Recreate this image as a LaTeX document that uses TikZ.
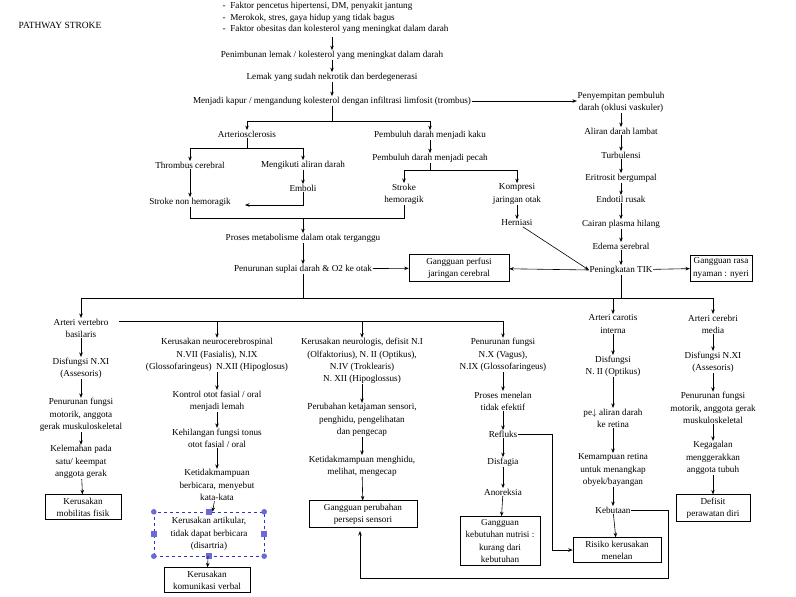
\documentclass[tikz,border=0pt]{standalone}
\usepackage{fontspec}
\setmainfont{Liberation Serif}
\usetikzlibrary{arrows.meta,calc}
\begin{document}
\begin{tikzpicture}[x=1bp,y=-1bp,
  every node/.style={font=\fontsize{9.2}{12.3}\selectfont,align=center,inner sep=0.5pt},
  bx/.style={draw,line width=0.6pt,inner sep=3pt},
  ln/.style={line width=0.6pt},
  ar/.style={ln,-{Stealth[length=4.5pt,width=3.5pt]}}]
\useasboundingbox (0,0) rectangle (796,597);
\node[anchor=west,font=\fontsize{9.5}{10}\selectfont] (title) at (18,25) {PATHWAY STROKE};
\node[anchor=north west,align=left,font=\fontsize{9.2}{12}\selectfont] (fak) at (222,1) {-\ \ Faktor pencetus hipertensi, DM, penyakit jantung\\-\ \ Merokok, stres, gaya hidup yang tidak bagus\\-\ \ Faktor obesitas dan kolesterol yang meningkat dalam darah};
\node (pen) at (332,55) {Penimbunan lemak / kolesterol yang meningkat dalam darah};
\node (lem) at (332,77) {Lemak yang sudah nekrotik dan berdegenerasi};
\node (men) at (332,101) {Menjadi kapur / mengandung kolesterol dengan infiltrasi limfosit (trombus)};
\node (pny) at (621,102) {Penyempitan pembuluh\\darah (oklusi vaskuler)};
\node (ali) at (621,131) {Aliran darah lambat};
\node (tur) at (621,155) {Turbulensi};
\node (eri) at (621,178) {Eritrosit bergumpal};
\node (end) at (621,199) {Endotil rusak};
\node (cai) at (621,224) {Cairan plasma hilang};
\node (ede) at (621,246) {Edema serebral};
\node (tik) at (621,270) {Peningkatan TIK};
\node[bx] (nyr) at (721,268) {Gangguan rasa\\nyaman : nyeri};
\node (art) at (247,134) {Arteriosclerosis};
\node (kak) at (430,135) {Pembuluh darah menjadi kaku};
\node (pec) at (430,158) {Pembuluh darah menjadi pecah};
\node (thr) at (190,165) {Thrombus cerebral};
\node (mng) at (303,165) {Mengikuti aliran darah};
\node (emb) at (303,188) {Emboli};
\node (snh) at (190,202) {Stroke non hemoragik};
\node (sh) at (404,194) {Stroke\\hemoragik};
\node (kom) at (517,194) {Kompresi\\jaringan otak};
\node (her) at (517,223) {Herniasi};
\node (pro) at (303,238) {Proses metabolisme dalam otak terganggu};
\node (sup) at (303,269) {Penurunan suplai darah \& O2 ke otak};
\node[bx,minimum width=100bp] (gpf) at (459,268) {Gangguan perfusi\\jaringan cerebral};
% columns
\node (av) at (81,328) {Arteri vertebro\\basilaris};
\node (d1) at (81,368) {Disfungsi N.XI\\(Assesoris)};
\node (p1) at (81,415) {Penurunan fungsi\\motorik, anggota\\gerak muskuloskeletal};
\node (k1) at (81,462) {Kelemahan pada\\satu/ keempat\\anggota gerak};
\node[bx,minimum width=76bp] (mob) at (83,507) {Kerusakan\\mobilitas fisik};
\node (nc) at (217,355) {Kerusakan neurocerebrospinal\\N.VII (Fasialis), N.IX\\(Glossofaringeus)\ \ N.XII (Hipoglosus)};
\node (ko) at (217,401) {Kontrol otot fasial / oral\\menjadi lemah};
\node (ke) at (217,438) {Kehilangan fungsi tonus\\otot fasial / oral};
\node (kt) at (217,485) {Ketidakmampuan\\berbicara, menyebut\\kata-kata};
\node[draw=blue!60!gray,dashed,minimum width=110bp,minimum height=44bp] (ka) at (209,534) {Kerusakan artikular,\\tidak dapat berbicara\\(disartria)};
\foreach \a in {north west,north east,south west,south east}
  \fill[blue!55!gray!75] (ka.\a) circle (2.8bp);
\foreach \a in {north,south,west,east}
  \fill[blue!55!gray!75] ($(ka.\a)+(-2.8,-2.8)$) rectangle +(5.6,5.6);
\node[bx,minimum width=86bp] (kv) at (207,580) {Kerusakan\\komunikasi verbal};
\node (nl) at (362,361) {Kerusakan neurologis, defisit N.I\\(Olfaktorius), N. II (Optikus),\\N.IV (Troklearis)\\N. XII (Hipoglossus)};
\node (pk) at (362,420) {Perubahan ketajaman sensori,\\penghidu, pengelihatan\\dan pengecap};
\node (km) at (362,466) {Ketidakmampuan menghidu,\\melihat, mengecap};
\node[bx,minimum width=108bp] (ps) at (363,514) {Gangguan perubahan\\persepsi sensori};
\node (pv) at (503,355) {Penurunan fungsi\\N.X (Vagus),\\N.IX (Glossofaringeus)};
\node (pm) at (503,401) {Proses menelan\\tidak efektif};
\node (ref) at (503,434) {Refluks};
\node (dis) at (503,462) {Disfagia};
\node (ano) at (503,492) {Anoreksia};
\node[bx,minimum width=80bp] (nut) at (500,541) {Gangguan\\kebutuhan nutrisi :\\kurang dari\\kebutuhan};
\node (ac) at (613,324) {Arteri carotis\\interna};
\node (d2) at (613,366) {Disfungsi\\N. II (Optikus)};
\node (pa) at (613,418) {pe$\downarrow$ aliran darah\\ke retina};
\node (kr) at (613,470) {Kemampuan retina\\untuk menangkap\\obyek/bayangan};
\node (keb) at (613,510) {Kebutaan};
\node[bx,minimum width=88bp] (ris) at (617,550) {Risiko kerusakan\\menelan};
\node (acm) at (713,324) {Arteri cerebri\\media};
\node (d3) at (713,362) {Disfungsi N.XI\\(Assesoris)};
\node (p3) at (713,408) {Penurunan fungsi\\motorik, anggota gerak\\muskuloskeletal};
\node (kg) at (713,458) {Kegagalan\\menggerakkan\\anggota tubuh};
\node[bx,minimum width=74bp] (def) at (713,508) {Defisit\\perawatan diri};
% connectors
\draw[ar] (332,37) -- (pen);
\draw[ar] (pen) -- (lem);
\draw[ar] (lem) -- (men);
\draw[ar] (men) -- (pny.west|-men);
\foreach \a/\b in {pny/ali,ali/tur,tur/eri,eri/end,end/cai,cai/ede,ede/tik} \draw[ar] (\a) -- (\b);
\draw[ar] (tik) -- (nyr);
\draw[ln] (men) -- (332,121);
\draw[ar] (247,121) -- (art);
\draw[ar] (430,121) -- (kak);
\draw[ln] (247,121) -- (430,121);
\draw[ar] (kak) -- (pec);
\draw[ln] (art) -- (247,148) (190,148) -- (303,148);
\draw[ar] (190,148) -- (thr);
\draw[ar] (303,148) -- (mng);
\draw[ar] (mng) -- (emb);
\draw[ar] (thr) -- (snh);
\draw[ar] (emb) |- (245,205);
\draw[ln] (pec) -- (430,170) (404,170) -- (517,170);
\draw[ar] (404,170) -- (sh);
\draw[ar] (517,170) -- (kom);
\draw[ar] (kom) -- (her);
\draw[ar] (her) -- (tik.west);
\draw[ln] (snh) -- (190,218) -- (404,218) -- (sh);
\draw[ar] (303,218) -- (pro);
\draw[ar] (pro) -- (sup);
\draw[ar] (sup) -- (gpf);
\draw[ar] (tik.west) -- (gpf);
\draw[ln] (sup) -- (303,298) (tik) -- (621,298);
\draw[ln] (81,298) -- (713,298);
\draw[ar] (81,298) -- (av);
\draw[ar] (613,298) -- (ac);
\draw[ar] (713,298) -- (acm);
\draw[ln] (119,321) -- (503,321);
\draw[ar] (217,321) -- (nc);
\draw[ar] (362,321) -- (nl);
\draw[ar] (503,321) -- (pv);
\foreach \a/\b in {av/d1,d1/p1,p1/k1,k1/mob,nc/ko,ko/ke,ke/kt,kt/ka,ka/kv,nl/pk,pk/km,km/ps,pv/pm,pm/ref,ref/dis,dis/ano,ano/nut,ac/d2,d2/pa,pa/kr,kr/keb,keb/ris,acm/d3,d3/p3,p3/kg,kg/def} \draw[ar] (\a) -- (\b);
\draw[ar] (ref) -- (552,434) -- (552,550) -- (ris.west);
\draw[ar] (keb) -- (668,510) -- (668,578) -- (360,578) -- (360,531);
\end{tikzpicture}
\end{document}
